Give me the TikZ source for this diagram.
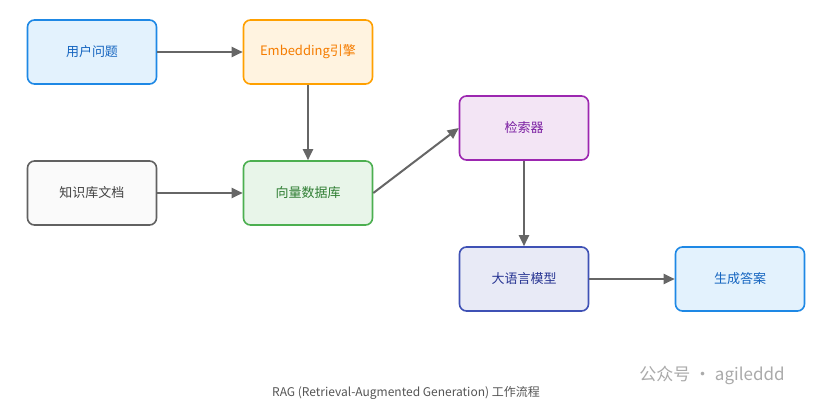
\documentclass[tikz,border=0pt]{standalone}
\usepackage{fontspec}
\setmainfont{Noto Sans CJK SC}
\usetikzlibrary{arrows.meta}
\definecolor{ar}{HTML}{666666}
\definecolor{bB}{HTML}{1E88E5}\definecolor{bF}{HTML}{E3F2FD}\definecolor{bT}{HTML}{1565C0}
\definecolor{oB}{HTML}{FFA000}\definecolor{oF}{HTML}{FFF3E0}\definecolor{oT}{HTML}{F57C00}
\definecolor{gB}{HTML}{616161}\definecolor{gF}{HTML}{FAFAFA}\definecolor{gT}{HTML}{424242}
\definecolor{nB}{HTML}{4CAF50}\definecolor{nF}{HTML}{E8F5E9}\definecolor{nT}{HTML}{2E7D32}
\definecolor{pB}{HTML}{9C27B0}\definecolor{pF}{HTML}{F3E5F5}\definecolor{pT}{HTML}{7B1FA2}
\definecolor{iB}{HTML}{3F51B5}\definecolor{iF}{HTML}{E8EAF6}\definecolor{iT}{HTML}{283593}
\definecolor{capc}{HTML}{555555}\definecolor{wmc}{HTML}{AAAAAA}
\tikzset{
 box/.style={draw, line width=1.6pt, rounded corners=7pt, minimum width=129pt, minimum height=64pt, font=\fontsize{13}{15}\selectfont, inner sep=0pt},
 conn/.style={draw=ar, line width=2pt, -{Triangle[length=11pt,width=10pt]}}
}
\begin{document}
\begin{tikzpicture}[x=1pt,y=-1pt]
\useasboundingbox (0,0) rectangle (831,408);
\fill[white] (0,0) rectangle (831,408);
\node[box, draw=bB, fill=bF, text=bT] (q) at (92,52) {用户问题};
\node[box, draw=oB, fill=oF, text=oT] (e) at (308,52) {Embedding引擎};
\node[box, draw=gB, fill=gF, text=gT] (k) at (92,193) {知识库文档};
\node[box, draw=nB, fill=nF, text=nT] (v) at (308,193) {向量数据库};
\node[box, draw=pB, fill=pF, text=pT] (r) at (524,128) {检索器};
\node[box, draw=iB, fill=iF, text=iT] (l) at (524,279) {大语言模型};
\node[box, draw=bB, fill=bF, text=bT] (a) at (740,279) {生成答案};
\draw[conn] (q) -- (e);
\draw[conn] (e) -- (v);
\draw[conn] (k) -- (v);
\draw[conn] (v.east) -- (r.west);
\draw[conn] (r) -- (l);
\draw[conn] (l) -- (a);
\node[font=\fontsize{12}{14}\selectfont, text=capc] (cap) at (406,393) {RAG (Retrieval-Augmented Generation) 工作流程};
\node[font=\fontsize{17}{19}\selectfont, text=wmc] (wm) at (712,375) {公众号 · agileddd};
\end{tikzpicture}
\end{document}
